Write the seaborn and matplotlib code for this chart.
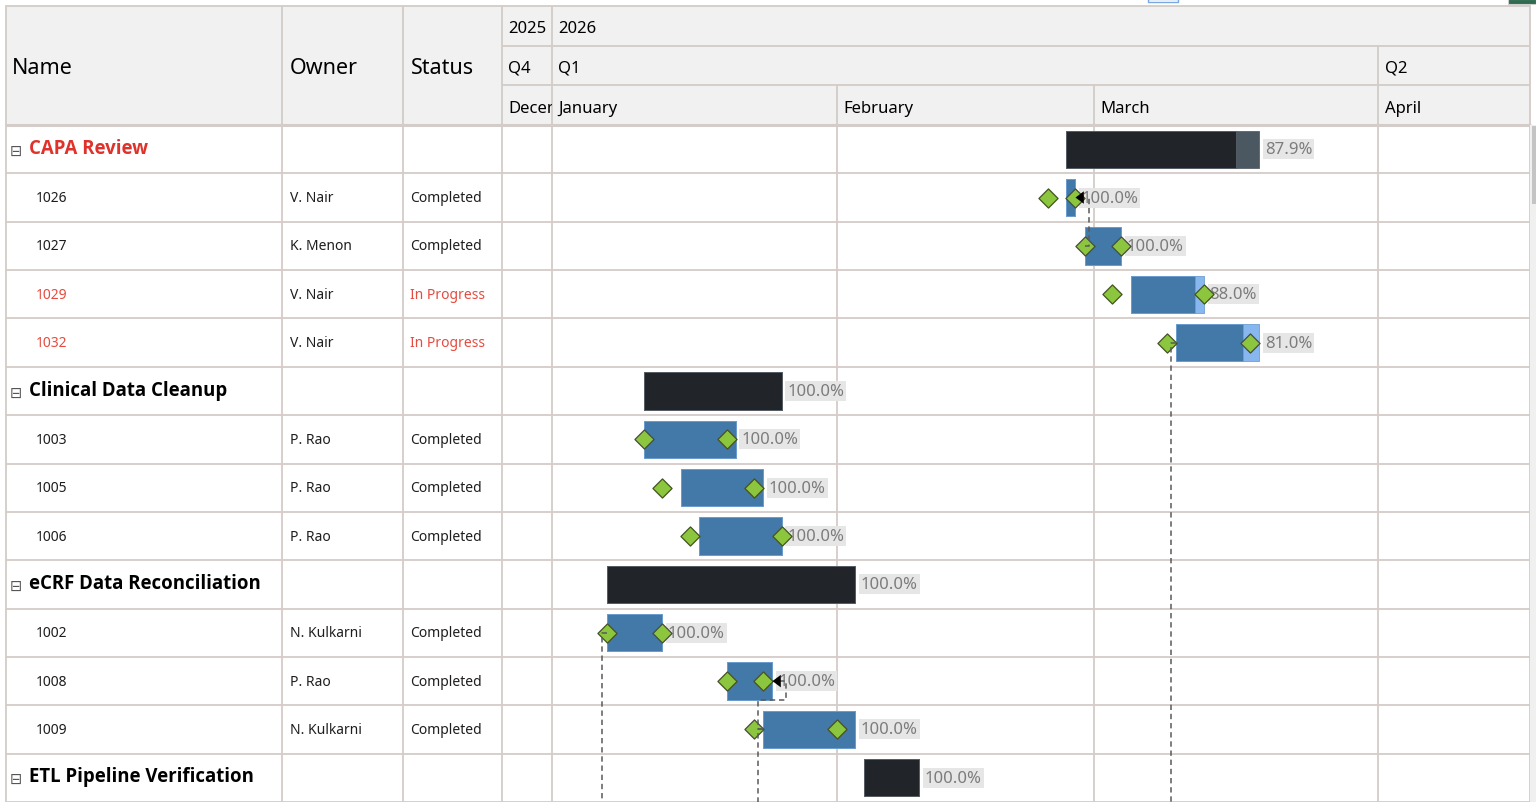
import numpy as np
import pandas as pd
import matplotlib
matplotlib.use("Agg")
import matplotlib.pyplot as plt
import matplotlib.dates as mdates
from matplotlib.patches import Rectangle
import seaborn as sns

# ---- chart data ----
names = ["CAPA Review", "1026", "1027", "1029", "1032",
         "Clinical Data Cleanup", "1003", "1005", "1006",
         "eCRF Data Reconciliation", "1002", "1008", "1009",
         "ETL Pipeline Verification"]
owners = ["", "V. Nair", "K. Menon", "V. Nair", "V. Nair",
          "", "P. Rao", "P. Rao", "P. Rao",
          "", "N. Kulkarni", "P. Rao", "N. Kulkarni", ""]
statuses = ["", "Completed", "Completed", "In Progress", "In Progress",
            "", "Completed", "Completed", "Completed",
            "", "Completed", "Completed", "Completed", ""]
is_summary = [True, False, False, False, False,
              True, False, False, False,
              True, False, False, False, True]
starts = ["2026-02-26", "2026-02-26", "2026-02-28", "2026-03-05", "2026-03-10",
          "2026-01-11", "2026-01-11", "2026-01-15", "2026-01-17",
          "2026-01-07", "2026-01-07", "2026-01-20", "2026-01-24",
          "2026-02-04"]
ends = ["2026-03-19", "2026-02-27", "2026-03-04", "2026-03-13", "2026-03-19",
        "2026-01-26", "2026-01-21", "2026-01-24", "2026-01-26",
        "2026-02-03", "2026-01-13", "2026-01-25", "2026-02-03",
        "2026-02-10"]
progress = [87.9, 100, 100, 88, 81,
            100, 100, 100, 100,
            100, 100, 100, 100, 100]
base_starts = [None, "2026-02-24", "2026-02-28", "2026-03-03", "2026-03-09",
               None, "2026-01-11", "2026-01-13", "2026-01-16",
               None, "2026-01-07", "2026-01-20", "2026-01-23", None]
base_ends = [None, "2026-02-27", "2026-03-04", "2026-03-13", "2026-03-18",
             None, "2026-01-20", "2026-01-23", "2026-01-26",
             None, "2026-01-13", "2026-01-24", "2026-02-01", None]
# visible dependency links (successor, predecessor)
links = [("1027", "1026"), ("1009", "1008")]
# links that continue below the visible rows
offscreen_links = ["1002", "1009", "1032"]

year_labels = ["2025", "2026"]
year_starts = ["2025-01-01", "2026-01-01"]
quarter_labels = ["Q4", "Q1", "Q2"]
quarter_starts = ["2025-10-01", "2026-01-01", "2026-04-01"]
month_labels = ["December", "January", "February", "March", "April"]
month_starts = ["2025-12-01", "2026-01-01", "2026-02-01", "2026-03-01", "2026-04-01"]

view_start = "2025-12-26 13:00"
view_end = "2026-04-17 12:00"

# ---- style ----
sns.set_theme(style="white")
plt.rcParams["font.family"] = ["Noto Sans", "DejaVu Sans"]
BOLD_FONT = ["Open Sans", "DejaVu Sans"]

GRID = "#d3ccc8"
HEAD_BG = "#f1f1f1"
RED_GROUP = "#e0312a"
RED_ROW = "#e54b3f"
TXT = "#1e1e1e"

W, H = 1536, 803
fig = plt.figure(figsize=(W / 100, H / 100), dpi=100)
fig.patch.set_facecolor("white")


def frac(x, y_top, w, h):
    return [x / W, 1 - (y_top + h) / H, w / W, h / H]


ax = fig.add_axes(frac(502, 126, 1028, 677))
hax = fig.add_axes(frac(502, 7, 1028, 119), sharex=ax)
tax = fig.add_axes(frac(6, 126, 496, 677))
thax = fig.add_axes(frac(6, 7, 496, 119))

for a in (ax, hax, tax, thax):
    a.set_xticks([])
    a.set_yticks([])
    for sp in a.spines.values():
        sp.set_visible(False)
for a in (hax, thax):
    a.set_facecolor(HEAD_BG)


def num(d):
    return mdates.date2num(pd.Timestamp(d))


n_rows = len(names)
rows = np.arange(n_rows)
x0, x1 = num(view_start), num(view_end)
ax.set_xlim(x0, x1)
ax.set_ylim(n_rows - 0.5, -0.5)
hax.set_ylim(3, 0)
tax.set_xlim(0, 496)
tax.set_ylim(n_rows - 0.5, -0.5)
thax.set_xlim(0, 496)
thax.set_ylim(3, 0)

# ---- timeline header ----
for level, (labels, cstarts) in enumerate([(year_labels, year_starts),
                                           (quarter_labels, quarter_starts),
                                           (month_labels, month_starts)]):
    cs = [num(c) for c in cstarts] + [x1 + 400]
    for k, lab in enumerate(labels):
        left = max(cs[k], x0)
        right = min(cs[k + 1], x1)
        if cs[k] > x0:
            hax.plot([cs[k], cs[k]], [level, level + 1], color=GRID, lw=1.3, zorder=2)
        t = hax.annotate(lab, xy=(left, level + 0.56), xytext=(4.5, 0),
                         textcoords="offset points", ha="left", va="center",
                         fontsize=12, color="black")
        # text is cut at the cell edge, as in the widget
        clip = Rectangle((left, level), right - left, 1, transform=hax.transData)
        t.set_clip_path(clip)
for yl in (1, 2):
    hax.axhline(yl, color=GRID, lw=1.3)
hax.axhline(0, color=GRID, lw=1.3, clip_on=False)
hax.axhline(3, color=GRID, lw=2.2, clip_on=False)
hax.axvline(x1, color=GRID, lw=1.3, clip_on=False)

# ---- table header ----
col_edges = [0, 276, 397, 496]
for cx in col_edges:
    thax.axvline(cx, color=GRID, lw=1.3, clip_on=False)
thax.axhline(0, color=GRID, lw=1.3, clip_on=False)
thax.axhline(3, color=GRID, lw=2.2, clip_on=False)
for lab, cx in zip(["Name", "Owner", "Status"], [6, 284, 405]):
    thax.text(cx, 1.56, lab, ha="left", va="center", fontsize=15.5, color="black")

# ---- table body ----
for cx in col_edges:
    tax.axvline(cx, color=GRID, lw=1.3, clip_on=False)
for r in rows:
    tax.axhline(r + 0.5, color=GRID, lw=1.3, clip_on=False)
    red = statuses[r] == "In Progress"
    if is_summary[r]:
        gcol = RED_GROUP if r == 0 else "black"
        tax.text(4, r + 0.02, "\u229f", ha="left", va="center", fontsize=10.5,
                 color="#555555", family=["DejaVu Sans"])
        tax.text(23, r - 0.03, names[r], ha="left", va="center", fontsize=13.4,
                 fontweight="bold", color=gcol, family=BOLD_FONT)
    else:
        tax.text(30, r, names[r], ha="left", va="center", fontsize=10,
                 color=RED_ROW if red else TXT)
        tax.text(284, r, owners[r], ha="left", va="center", fontsize=10, color=TXT)
        tax.text(404, r, statuses[r], ha="left", va="center", fontsize=10,
                 color=RED_ROW if red else TXT)

# ---- timeline body grid ----
for r in rows:
    ax.axhline(r + 0.5, color=GRID, lw=1.3, zorder=1, clip_on=False)
for m in month_starts:
    mx = num(m)
    if mx > x0:
        ax.axvline(mx, color=GRID, lw=1.3, zorder=1)
ax.axvline(x1, color=GRID, lw=1.3, clip_on=False)

# ---- bars ----
s = np.array([num(d) for d in starts])
e = np.array([num(d) for d in ends])
dur = e - s
done = dur * np.array(progress) / 100.0
summ = np.array(is_summary)
full_col = np.where(summ, "#4b5862", "#88b6ef")
done_col = np.where(summ, "#212529", "#4279a9")
edge_col = np.where(summ, "#5b6269", "#6d9fd2")
ax.barh(rows, dur, left=s, height=0.77, color=full_col, edgecolor=edge_col,
        linewidth=0.6, zorder=2)
ax.barh(rows, done, left=s, height=0.77, color=done_col, edgecolor=edge_col,
        linewidth=0.6, zorder=3)

for r in rows:
    ax.annotate(f"{progress[r]:.1f}%", xy=(e[r], r), xytext=(4, 0),
                textcoords="offset points", ha="left", va="center",
                fontsize=12, color="#7c7c7c", zorder=4,
                bbox=dict(boxstyle="square,pad=0.12", fc="#e6e6e6", ec="none"))

# ---- baseline diamonds ----
bx, by = [], []
for r in rows:
    if base_starts[r] is not None:
        bx += [num(base_starts[r]), num(base_ends[r])]
        by += [r, r]
sns.scatterplot(x=bx, y=by, marker="D", s=95, color="#8cc63f",
                edgecolor="#45502c", linewidth=0.9, ax=ax, zorder=5, legend=False)
ax.set_xlim(x0, x1)
ax.set_ylim(n_rows - 0.5, -0.5)
ax.set_xlabel("")
ax.set_ylabel("")
ax.set_xticks([])
ax.set_yticks([])

# ---- dependency connectors ----
dash = dict(color="#5a5a5a", lw=1.1, linestyle=(0, (3.5, 2.5)), zorder=6)
idx = {n: i for i, n in enumerate(names)}
for succ, pred in links:
    i, j = idx[succ], idx[pred]
    ss, pe = s[i], e[j]
    if ss >= pe + 1:
        xv = ss + 0.5
        xs, ys = [ss, xv, xv], [i, i, j]
    else:
        xv, xr = ss - 0.6, pe + 1.5
        xs = [ss, xv, xv, xr, xr, pe + 0.6]
        ys = [i, i, j + 0.4, j + 0.4, j, j]
    ax.plot(xs, ys, **dash)
    ax.annotate("", xy=(pe, j), xytext=(pe + 0.9, j), zorder=7,
                arrowprops=dict(arrowstyle="-|>,head_length=0.6,head_width=0.45",
                                color="black", lw=0, shrinkA=0, shrinkB=0,
                                mutation_scale=10))
for n in offscreen_links:
    i = idx[n]
    xv = s[i] - 0.6
    ax.plot([s[i], xv, xv], [i, i, n_rows + 1], **dash)

# ---- window chrome ----
fig.patches.append(Rectangle((1530 / W, 0), 6 / W, 677 / H, transform=fig.transFigure,
                             fc="#f0f0f0", ec="none", zorder=0))
fig.patches.append(Rectangle((1532 / W, 1 - 205 / H), 4 / W, 78 / H, transform=fig.transFigure,
                             fc="#c4c4c4", ec="none", zorder=0))
fig.patches.append(Rectangle((1148 / W, 1 - 3 / H), 30 / W, 3 / H, transform=fig.transFigure,
                             fc="white", ec="#7aa7e0", lw=1, zorder=0))
fig.patches.append(Rectangle((1508 / W, 1 - 5 / H), 28 / W, 5 / H, transform=fig.transFigure,
                             fc="#2f6b4f", ec="#cfcfcf", lw=0.8, zorder=0))

fig.savefig("out.png", dpi=100)
